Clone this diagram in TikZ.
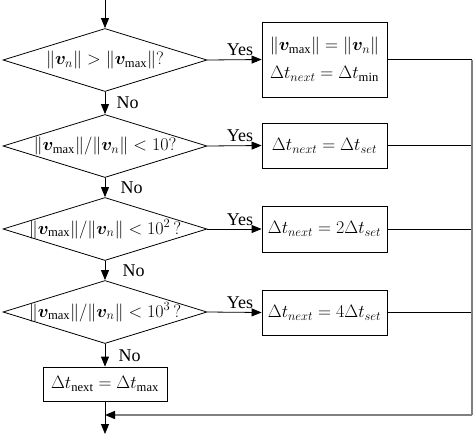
\RequirePackage{fix-cm}
\documentclass[tikz,border=0pt]{standalone}
\usepackage{amsmath,bm}
\usepackage{fontspec}
\setmainfont{Liberation Serif}
\usetikzlibrary{shapes.geometric,arrows.meta}
\newcommand{\nrm}[1]{\|#1\|}
\begin{document}
\begin{tikzpicture}[x=1pt,y=-1pt,
  line width=0.8pt,
  every node/.style={font=\fontsize{18}{21}\selectfont},
  dec/.style={diamond,draw,minimum width=204pt,minimum height=63pt,inner sep=0pt},
  bx/.style={draw,minimum width=125pt,inner sep=2pt,align=center},
  arr/.style={-{Triangle[length=10pt,width=8pt]}},
  lbl/.style={font=\fontsize{18}{20}\selectfont},
  ret/.style={draw=gray,line width=1.4pt}]
\useasboundingbox (0,0) rectangle (474,437);
\node[dec] (d1) at (105,60) {\makebox[0pt]{$\nrm{\bm{v}_n}>\nrm{\bm{v}_{\max}}?$}};
\node[dec] (d2) at (105,146) {\makebox[0pt]{$\nrm{\bm{v}_{\max}}/\nrm{\bm{v}_n}<10?$}};
\node[dec] (d3) at (105,229) {\makebox[0pt]{$\nrm{\bm{v}_{\max}}/\nrm{\bm{v}_n}<10^2\,?$}};
\node[dec] (d4) at (105,312) {\makebox[0pt]{$\nrm{\bm{v}_{\max}}/\nrm{\bm{v}_n}<10^3\,?$}};
\node[bx,minimum height=75pt] (b1) at (324.5,59.5) {$\nrm{\bm{v}_{\max}}=\nrm{\bm{v}_n}$\\[7pt] $\Delta t_{next}=\Delta t_{\min}$};
\node[bx,minimum height=45pt] (b2) at (324.5,145.5) {$\Delta t_{next}=\Delta t_{set}$};
\node[bx,minimum height=46pt] (b3) at (324.5,229) {$\Delta t_{next}=2\Delta t_{set}$};
\node[bx,minimum height=45pt] (b4) at (324.5,312.5) {$\Delta t_{next}=4\Delta t_{set}$};
\node[draw,minimum width=124pt,minimum height=34pt,inner sep=2pt] (b5) at (105,384) {$\Delta t_{\mathrm{next}}=\Delta t_{\max}$};
\coordinate (top) at (105,0);
\coordinate (corner) at (472,415);
\coordinate (merge) at (105,415);
\coordinate (bottom) at (105,434);
\draw[arr] (top) -- (d1.north);
\draw[arr] (d1.south) -- node[lbl,right=8pt] {No} (d2.north);
\draw[arr] (d2.south) -- node[lbl,right=12pt] {No} (d3.north);
\draw[arr] (d3.south) -- node[lbl,right=14pt] {No} (d4.north);
\draw[arr] (d4.south) -- node[lbl,right=10pt] {No} (b5.north);
\foreach \i in {1,...,4}{
  \draw[arr] (d\i.east) -- node[lbl,above=0pt,pos=0.6] {Yes} (b\i.west);
  \draw (b\i.east) -- (b\i.east -| corner);
}
\draw[ret] (b1.east -| corner) -- (corner);
\draw[ret,-{Triangle[length=10pt,width=8pt,black]}] (corner) -- (merge);
\draw[arr] (b5.south) -- (bottom);
\end{tikzpicture}
\end{document}
